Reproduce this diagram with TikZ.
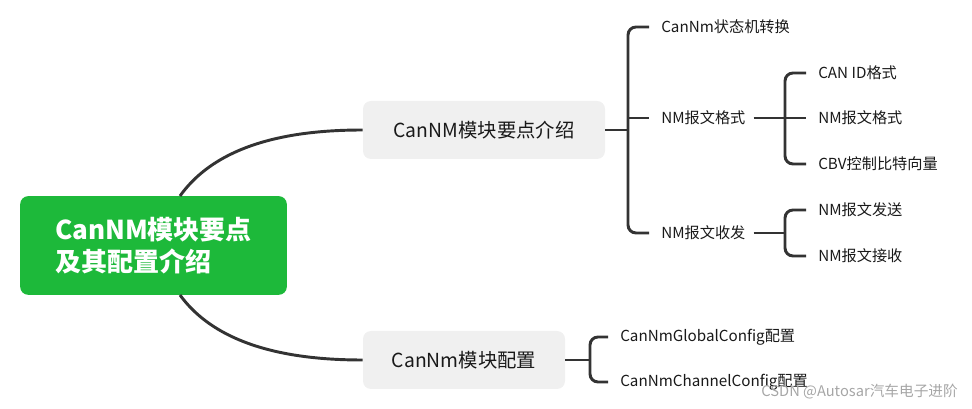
\documentclass[tikz,border=0pt]{standalone}
\usepackage{fontspec}
\setmainfont{Noto Sans CJK SC}
\begin{document}
\begin{tikzpicture}[x=0.75pt,y=-0.75pt,
 conn/.style={line width=2.2pt,draw=black!80},
 br/.style={conn,rounded corners=6pt},
 mid/.style={fill=gray!12,rounded corners=6pt,minimum height=43.5pt,font=\fontsize{14.5pt}{17pt}\selectfont,text=black!90},
 leaf/.style={anchor=west,inner sep=0pt,font=\fontsize{11.4pt}{13pt}\selectfont,text=black!90}]
\useasboundingbox (0,0) rectangle (972,409);
\node[fill={rgb,255:red,29;green,185;blue,58},rounded corners=6pt,minimum width=200pt,minimum height=74pt,text=white,font=\bfseries\fontsize{19.5pt}{24pt}\selectfont,align=left] (root) at (153.5,245.5) {CanNM模块要点\\及其配置介绍};
\node[mid,minimum width=181.5pt] (A) at (484,130) {CanNM模块要点介绍};
\node[mid,minimum width=151.5pt] (B) at (464,360) {CanNm模块配置};
\draw[conn] (180,196) .. controls (220,140) and (300,130) .. (A.west);
\draw[conn] (180,295) .. controls (220,350) and (300,360) .. (B.west);
% level 2
\node[leaf] (a1) at (661,27) {CanNm状态机转换};
\node[leaf] (a2) at (661,118) {NM报文格式};
\node[leaf] (a3) at (661,233) {NM报文收发};
\coordinate (ba) at (628,130);
\draw[conn] (A.east) -- (ba);
\draw[br] ([xshift=-9pt]a1.west) -| (ba) |- ([xshift=-9pt]a3.west);
\draw[conn] (628,118) -- ([xshift=-9pt]a2.west);
% NM报文格式
\node[leaf] (b1) at (818,73) {CAN ID格式};
\node[leaf] (b2) at (818,118) {NM报文格式};
\node[leaf] (b3) at (818,164) {CBV控制比特向量};
\coordinate (bb) at (785,118);
\draw[conn] ([xshift=6pt]a2.east) -- (bb);
\draw[br] ([xshift=-9pt]b1.west) -| (bb) |- ([xshift=-9pt]b3.west);
\draw[conn] (bb) -- ([xshift=-9pt]b2.west);
% NM报文收发
\node[leaf] (c1) at (818,210) {NM报文发送};
\node[leaf] (c2) at (818,256) {NM报文接收};
\coordinate (bc) at (785,233);
\draw[conn] ([xshift=6pt]a3.east) -- (bc);
\draw[br] ([xshift=-9pt]c1.west) -| (bc) |- ([xshift=-9pt]c2.west);
% B
\node[leaf] (d1) at (620,337) {CanNmGlobalConfig配置};
\node[leaf] (d2) at (620,382) {CanNmChannelConfig配置};
\coordinate (bd) at (590,360);
\draw[conn] (B.east) -- (bd);
\draw[br] ([xshift=-9pt]d1.west) -| (bd) |- ([xshift=-9pt]d2.west);
\node[anchor=east,inner sep=0pt,text=gray!70,font=\fontsize{11pt}{12pt}\selectfont] (wm) at (958,392) {CSDN @Autosar汽车电子进阶};
\end{tikzpicture}
\end{document}
